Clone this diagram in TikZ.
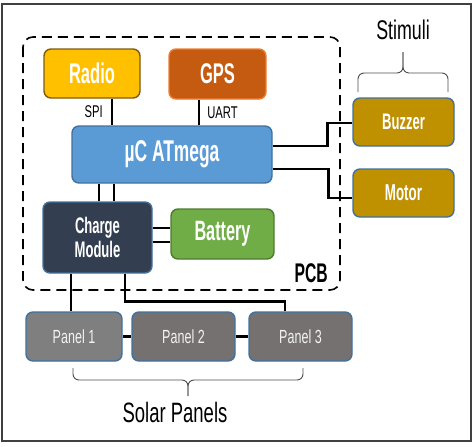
\documentclass[tikz,border=0pt]{standalone}
\usepackage{fontspec}
\setmainfont{Liberation Sans}[FakeStretch=0.66,BoldFeatures={FakeStretch=0.58}]
\usetikzlibrary{calc}
\definecolor{radioc}{HTML}{FFC000}
\definecolor{radiob}{HTML}{7F5A10}
\definecolor{gpsc}{HTML}{C55A11}
\definecolor{gpsb}{HTML}{ED7D31}
\definecolor{ucc}{HTML}{5B9BD5}
\definecolor{blueb}{HTML}{41719C}
\definecolor{goldc}{HTML}{BF9000}
\definecolor{chargec}{HTML}{333F50}
\definecolor{batc}{HTML}{70AD47}
\definecolor{batb}{HTML}{4E7A30}
\definecolor{panelc}{HTML}{7F7F7F}
\definecolor{panelcc}{HTML}{767171}
\newcommand{\fsz}[1]{\fontsize{#1}{#1}\selectfont}

\begin{document}
\begin{tikzpicture}[x=1pt,y=-1pt]
    \useasboundingbox (0,0) rectangle (474,447);
    \draw[line width=1.8pt,black!75] (2,4) rectangle (471,441);
    \draw[line width=1.6pt,dash pattern=on 10pt off 6pt,rounded corners=10pt] (23,37) rectangle (340,290);

    \begin{scope}[every node/.style={rounded corners=7pt,line width=1.4pt,text=white,inner sep=0pt,draw=blueb}]
        \node[fill=radioc,draw=radiob,minimum width=96pt,minimum height=49pt,font=\bfseries\fsz{28.5}] (radio) at (92,73.5) {Radio};
        \node[fill=gpsc,draw=gpsb,minimum width=97pt,minimum height=50pt,font=\bfseries\fsz{28.5}] (gps) at (217.5,74) {GPS};
        \node[fill=ucc,minimum width=200pt,minimum height=57pt,font=\bfseries\fsz{30}] (uc) at (172,154.5) {µC ATmega};
        \node[fill=goldc,minimum width=101pt,minimum height=48pt,font=\bfseries\fsz{22.5}] (buzzer) at (403.5,122) {Buzzer};
        \node[fill=goldc,minimum width=101pt,minimum height=48pt,font=\bfseries\fsz{23}] (motor) at (403.5,193) {Motor};
        \node[fill=chargec,minimum width=109pt,minimum height=71pt,font=\bfseries\fsz{22.5},align=center] (charge) at (97.5,237.5) {Charge\\[2pt]Module};
        \node[fill=batc,draw=batb,minimum width=103pt,minimum height=50pt,font=\bfseries\fsz{28}] (battery) at (222.5,234) {Battery};
        \node[fill=panelc,minimum width=96pt,minimum height=49pt,font=\fsz{19},text=white!95!black] (panel1) at (74,336.5) {Panel 1};
        \node[fill=panelcc,minimum width=103pt,minimum height=49pt,font=\fsz{19},text=white!95!black] (panel2) at (183.5,336.5) {Panel 2};
        \node[fill=panelcc,minimum width=103pt,minimum height=49pt,font=\fsz{19},text=white!95!black] (panel3) at (300.5,336.5) {Panel 3};
    \end{scope}

    \begin{scope}[line width=2.6pt]
        \draw ([xshift=20pt]radio.south) -- ([xshift=20pt]radio.south |- uc.north)
            node[midway,left=8pt,inner sep=0pt,font=\fsz{17}] (spi) {SPI};
        \draw ([xshift=-18.5pt]gps.south) -- ([xshift=-18.5pt]gps.south |- uc.north)
            node[midway,right=7pt,inner sep=0pt,font=\fsz{17}] (uart) {UART};
        \draw ([yshift=8.5pt]uc.east) -- ++(55,0) |- ([yshift=-1pt]buzzer.west);
        \draw ([yshift=-14.5pt]uc.east) -- ++(56,0) |- ([yshift=-5pt]motor.west);
        \draw ([xshift=1.5pt]charge.north) -- ([xshift=1.5pt]charge.north |- uc.south);
        \draw ([xshift=16.5pt]charge.north) -- ([xshift=16.5pt]charge.north |- uc.south);
        \draw ([yshift=9.5pt]charge.east) -- ([yshift=9.5pt]charge.east -| battery.west);
        \draw ([yshift=-4.5pt]charge.east) -- ([yshift=-4.5pt]charge.east -| battery.west);
        \draw ([xshift=-26.5pt]charge.south) -- ([xshift=-26.5pt]charge.south |- panel1.north);
        \draw ([xshift=27.5pt]charge.south) -- ++(0,28) -| ([xshift=-15.5pt]panel3.north);
        \draw (panel1) -- (panel2);
        \draw (panel2) -- (panel3);
    \end{scope}

    \node[anchor=base east,font=\bfseries\fsz{27},inner sep=0pt] (pcb) at (328,282) {PCB};
    \node[anchor=base,font=\fsz{27},inner sep=0pt] (stimuli) at (403,39) {Stimuli};
    \node[anchor=base,font=\fsz{28},inner sep=0pt] (solar) at (175,422) {Solar Panels};

    \begin{scope}[line width=0.9pt,black!70,rounded corners=6pt]
        \draw (358,92) |- (403,73) -- (403,52);
        \draw (448,92) |- (403,73) -- (403,52);
        \draw (73,368) |- (188,380) -- (188,396);
        \draw (303,368) |- (188,380) -- (188,396);
    \end{scope}
\end{tikzpicture}
\end{document}
